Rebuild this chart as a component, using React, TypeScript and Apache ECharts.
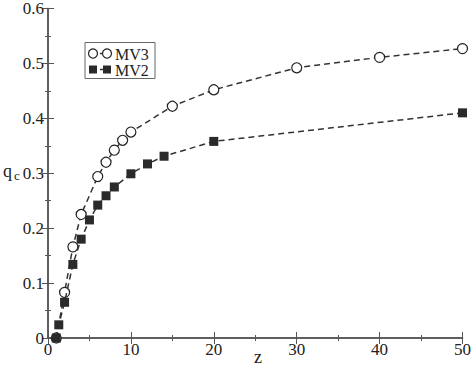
import React, { useEffect, useRef } from "react";
import * as echarts from "echarts";

const mv3Z = [1, 2, 3, 4, 6, 7, 8, 9, 10, 15, 20, 30, 40, 50];
const mv3Q = [0, 0.083, 0.166, 0.225, 0.294, 0.32, 0.342, 0.36, 0.375, 0.422, 0.452, 0.492, 0.511, 0.527];
const mv2Z = [1, 1.3, 2, 3, 4, 5, 6, 7, 8, 10, 12, 14, 20, 50];
const mv2Q = [0, 0.024, 0.065, 0.134, 0.18, 0.215, 0.242, 0.259, 0.275, 0.299, 0.317, 0.331, 0.358, 0.41];
const seriesNames = ["MV3", "MV2"];

const FONT = "Liberation Serif, Times New Roman, serif";
const AXIS = "#555";

export default function App() {
  const ref = useRef<HTMLDivElement>(null);
  useEffect(() => {
    const chart = echarts.init(ref.current!, undefined, { renderer: "svg" });
    const tickCommon = {
      axisLine: { show: true, lineStyle: { color: AXIS, width: 1.5 } },
      axisTick: { show: true, inside: true, length: 6, lineStyle: { color: AXIS, width: 1 } },
      minorTick: { show: true, splitNumber: 2, length: 3, lineStyle: { color: AXIS, width: 1 } },
      splitLine: { show: false },
    };
    const labelStyle = { fontFamily: FONT, fontSize: 17, color: "#222" };
    chart.setOption({
      animation: false,
      backgroundColor: "#fff",
      grid: { left: 48, right: 8, top: 5, bottom: 28 },
      xAxis: [
        {
          type: "value", min: 0, max: 50, interval: 10, position: "bottom",
          ...tickCommon,
          axisLabel: { ...labelStyle, margin: 3 },
        },
        {
          type: "value", min: 0, max: 50, interval: 10, position: "top",
          ...tickCommon,
          axisLabel: { show: false },
        },
      ],
      yAxis: [
        {
          type: "value", min: 0, max: 0.6, interval: 0.1, position: "left",
          ...tickCommon,
          axisLabel: { ...labelStyle, margin: 4 },
        },
        {
          type: "value", min: 0, max: 0.6, interval: 0.1, position: "right",
          ...tickCommon,
          axisLabel: { show: false },
        },
      ],
      series: [
        {
          name: seriesNames[0],
          type: "line",
          data: mv3Z.map((z, i) => [z, mv3Q[i]]),
          symbol: "circle",
          symbolSize: 10,
          lineStyle: { color: "#333", width: 1.5, type: [6, 4] },
          itemStyle: { color: "#fff", borderColor: "#222", borderWidth: 1.2 },
          z: 3,
        },
        {
          name: seriesNames[1],
          type: "line",
          data: mv2Z.map((z, i) => [z, mv2Q[i]]),
          symbol: "rect",
          symbolSize: 9,
          lineStyle: { color: "#333", width: 1.5, type: [6, 4] },
          itemStyle: { color: "#2a2a2a", borderColor: "#2a2a2a", borderWidth: 0 },
          z: 4,
        },
      ],
      graphic: [
        {
          type: "rect",
          shape: { x: 85, y: 42.5, width: 70, height: 36 },
          style: { fill: "#fff", stroke: "#666", lineWidth: 1 },
          z: 10,
        },
        {
          type: "line",
          shape: { x1: 93, y1: 53.5, x2: 107, y2: 53.5 },
          style: { stroke: "#333", lineWidth: 1.5, lineDash: [4, 3] },
          z: 11,
        },
        { type: "circle", shape: { cx: 93, cy: 53.5, r: 4.5 }, style: { fill: "#fff", stroke: "#222", lineWidth: 1.2 }, z: 12 },
        { type: "circle", shape: { cx: 107, cy: 53.5, r: 4.5 }, style: { fill: "#fff", stroke: "#222", lineWidth: 1.2 }, z: 12 },
        {
          type: "line",
          shape: { x1: 93, y1: 69.5, x2: 107, y2: 69.5 },
          style: { stroke: "#333", lineWidth: 1.5, lineDash: [4, 3] },
          z: 11,
        },
        { type: "rect", shape: { x: 89, y: 65.5, width: 8, height: 8 }, style: { fill: "#2a2a2a" }, z: 12 },
        { type: "rect", shape: { x: 103, y: 65.5, width: 8, height: 8 }, style: { fill: "#2a2a2a" }, z: 12 },
        {
          type: "text", x: 115, y: 54,
          style: { text: seriesNames[0], fontFamily: FONT, fontSize: 16, lineHeight: 15, fill: "#222", verticalAlign: "middle" },
          z: 12,
        },
        {
          type: "text", x: 115, y: 70,
          style: { text: seriesNames[1], fontFamily: FONT, fontSize: 16, lineHeight: 15, fill: "#222", verticalAlign: "middle" },
          z: 12,
        },
        {
          type: "text", x: 3, y: 171,
          style: {
            text: "{q|q}{c|c}",
            verticalAlign: "middle",
            rich: {
              q: { fontFamily: FONT, fontSize: 18, fill: "#222", verticalAlign: "middle" },
              c: { fontFamily: FONT, fontSize: 13, fill: "#222", padding: [9, 0, 0, 2] },
            },
          },
        },
        {
          type: "text", x: 254, y: 357,
          style: { text: "z", fontFamily: FONT, fontSize: 18, fill: "#222", verticalAlign: "middle" },
        },
      ],
    });
    return () => chart.dispose();
  }, []);
  return <div ref={ref} style={{ width: 474, height: 366, position: "absolute", left: 0, top: 0 }} />;
}
